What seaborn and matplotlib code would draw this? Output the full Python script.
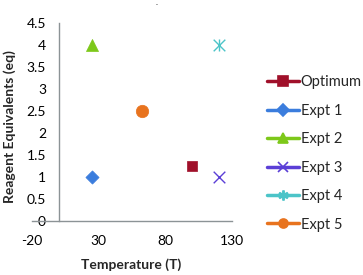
import matplotlib
matplotlib.use("Agg")
import matplotlib.pyplot as plt
import pandas as pd
import seaborn as sns
from matplotlib.lines import Line2D

series = ["Optimum", "Expt 1", "Expt 2", "Expt 3", "Expt 4", "Expt 5"]
temperature = [100, 25, 25, 120, 120, 62.5]
equivalents = [1.25, 1, 4, 1, 4, 2.5]
colors = ["#A0102A", "#3B7DDD", "#7DC81A", "#5B3FD6", "#4CC4C8", "#E8731E"]
markers = ["s", "D", "^", "x", "x", "o"]

x_ticks = [-20, 30, 80, 130]
y_ticks = [0, 0.5, 1, 1.5, 2, 2.5, 3, 3.5, 4, 4.5]
y_tick_labels = ["0", "0.5", "1", "1.5", "2", "2.5", "3", "3.5", "4", "4.5"]

df = pd.DataFrame({"series": series, "temperature": temperature, "eq": equivalents})

sns.set_style("white")
plt.rcParams["font.family"] = ["Lato", "DejaVu Sans"]

fig = plt.figure(figsize=(3.63, 2.75), dpi=100)
ax = fig.add_axes([0.088, 0.196, 0.551, 0.720])

sizes = {"s": 60, "D": 45, "^": 75, "x": 70, "o": 80}
for name, col, mk in zip(series, colors, markers):
    sub = df[df["series"] == name]
    if name == "Expt 4":
        sns.scatterplot(data=sub, x="temperature", y="eq", marker="x", s=70,
                        color=col, linewidth=1.0, ax=ax)
        sns.scatterplot(data=sub, x="temperature", y="eq", marker="|", s=80,
                        color=col, linewidth=1.0, ax=ax)
    elif mk == "x":
        sns.scatterplot(data=sub, x="temperature", y="eq", marker=mk, s=sizes[mk],
                        color=col, linewidth=1.0, ax=ax)
    else:
        sns.scatterplot(data=sub, x="temperature", y="eq", marker=mk, s=sizes[mk],
                        color=col, edgecolor=col, linewidth=0.5, ax=ax)

ax.set_xlim(-20, 130)
ax.set_ylim(0, 4.5)
ax.set_xticks(x_ticks)
ax.set_xticklabels([str(t) for t in x_ticks])
ax.set_yticks(y_ticks)
ax.set_yticklabels(y_tick_labels)
ax.tick_params(axis="both", length=0, labelsize=10, colors="black")
ax.tick_params(axis="y", pad=9)
ax.tick_params(axis="x", pad=10)

ax.spines["left"].set_position(("data", 0))
ax.spines["top"].set_visible(False)
ax.spines["right"].set_visible(False)
for sp in ["left", "bottom"]:
    ax.spines[sp].set_color("#8C9396")
    ax.spines[sp].set_linewidth(1.0)

ax.set_xlabel("")
ax.set_ylabel("")
fig.text(0.362, 0.036, "Temperature (T)", ha="center", va="center",
         fontsize=10, fontweight="bold")
fig.text(0.027, 0.538, "Reagent Equivalents (eq)", ha="center", va="center",
         rotation=90, fontsize=10, fontweight="bold")
fig.text(0.432, 0.99, ".", ha="center", va="center", fontsize=6)

handles = []
for name, col, mk in zip(series, colors, markers):
    m = "$\\ast$" if name == "Expt 4" else mk
    handles.append(Line2D([0], [0], color=col, lw=2.5, marker=m, markersize=6.5,
                          markerfacecolor=col, markeredgecolor=col, markeredgewidth=1.2))
leg = fig.legend(handles, series, loc="upper left", bbox_to_anchor=(0.736, 0.726),
                 frameon=False, fontsize=10.5, handlelength=2.2, labelspacing=0.99,
                 handletextpad=0.1, borderaxespad=0, borderpad=0)

fig.savefig("out.png", dpi=100)
